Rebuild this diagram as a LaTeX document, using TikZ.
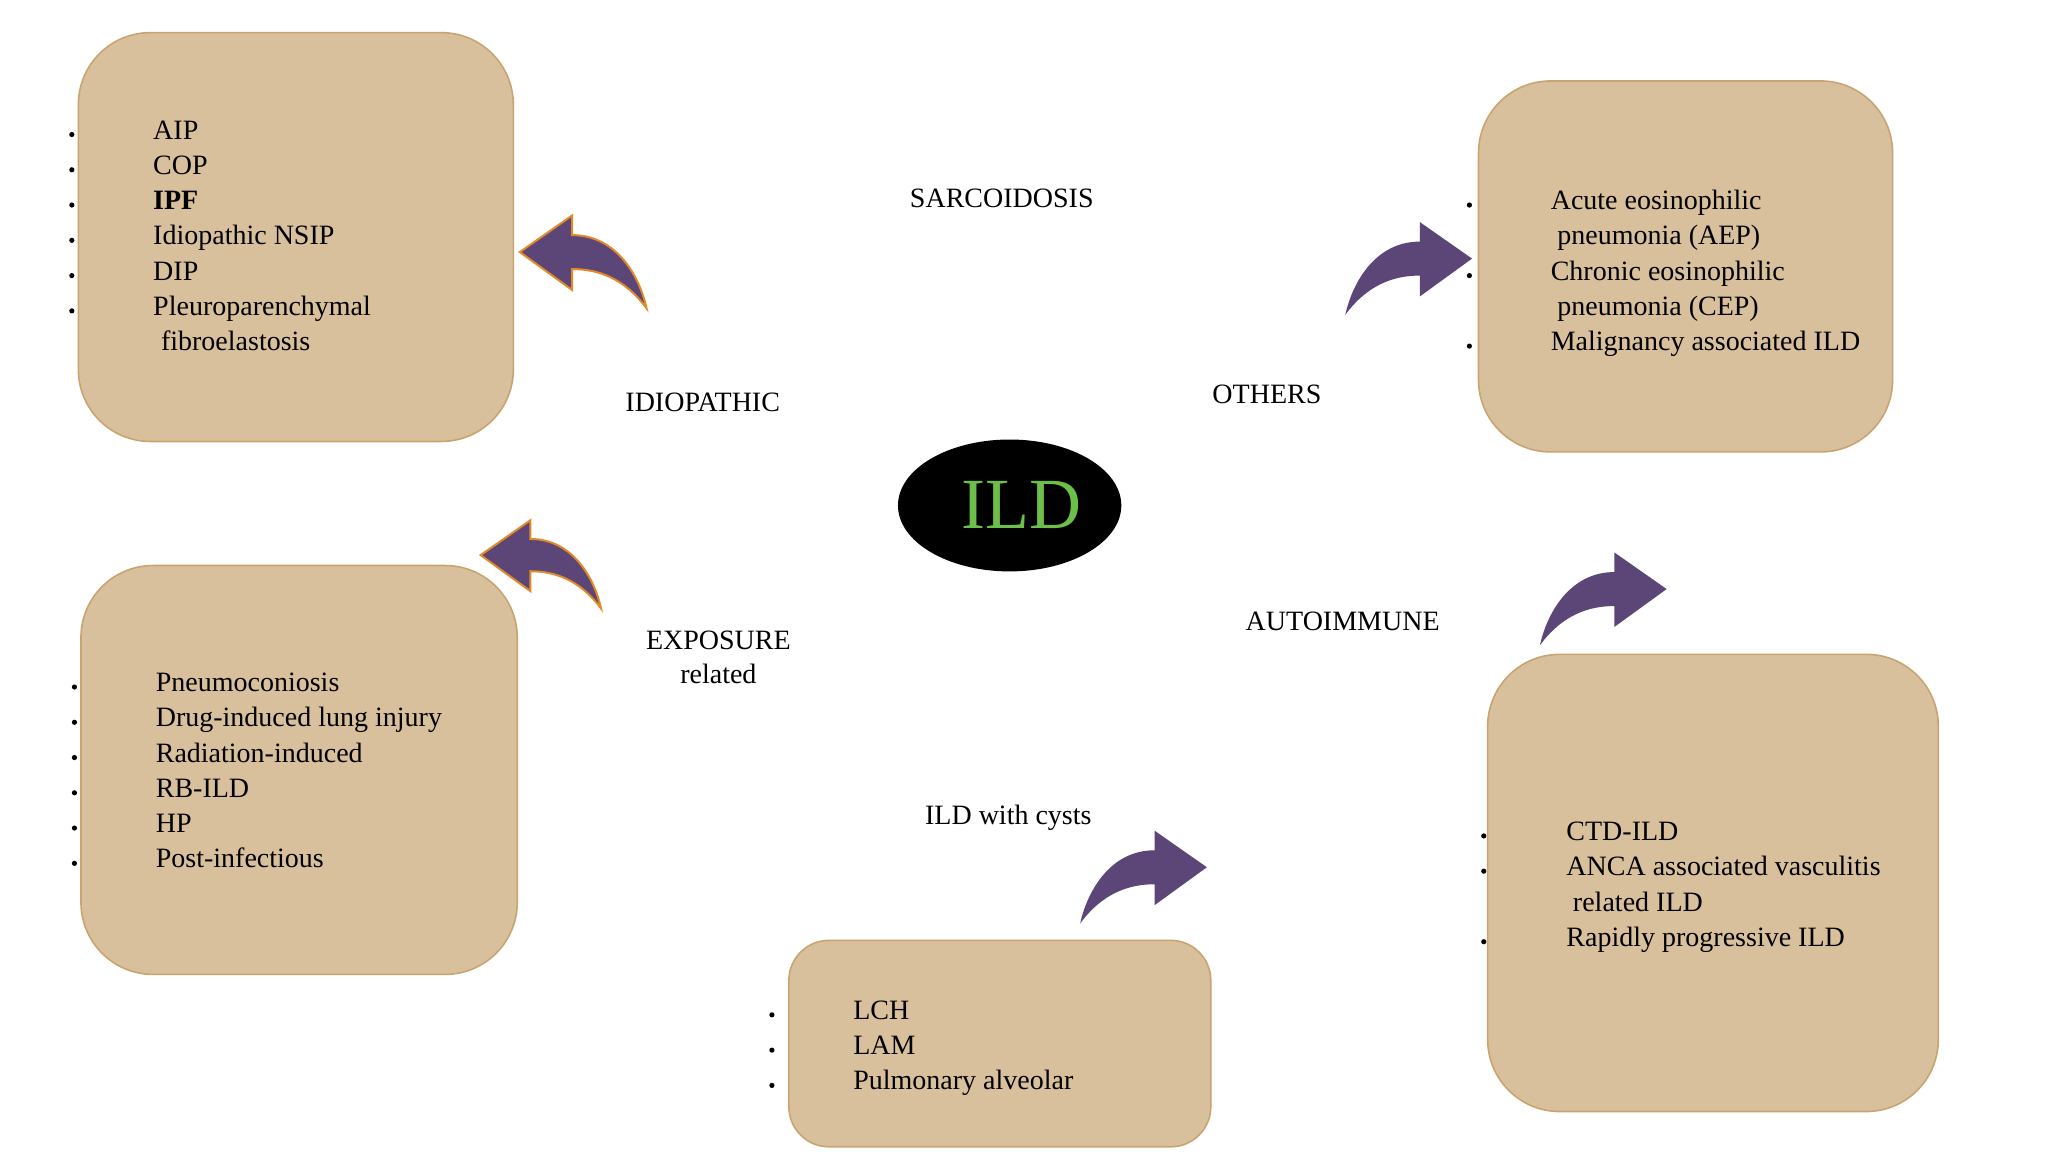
\documentclass[tikz,border=0pt]{standalone}
\usepackage{fontspec}
\setmainfont{Liberation Serif}
\usetikzlibrary{shapes.geometric}
\definecolor{boxfill}{HTML}{D9C09D}
\definecolor{boxline}{HTML}{C9A470}
\definecolor{arrpurple}{HTML}{5C4677}
\definecolor{arrorange}{HTML}{E08A2A}
\definecolor{ildgreen}{HTML}{6CC04A}
\begin{document}
\begin{tikzpicture}[x=0.653pt,y=-0.653pt,
  box/.style={fill=boxfill,draw=boxline,line width=0.8pt,rounded corners=36pt},
  txt/.style={anchor=mid west,inner sep=0pt,font=\fontsize{14}{17}\selectfont},
  lab/.style={inner sep=0pt,font=\fontsize{14}{17}\selectfont,align=center},
  bul/.style={circle,fill=black,inner sep=0pt,minimum size=2.6pt}]
\useasboundingbox (0,0) rectangle (1568,882);
\fill[white] (0,0) rectangle (1568,882);
\def\arrowshape{(0,0) -- (40,-28) -- (40,-13) .. controls (75,-13) and (92,20) .. (97,43) .. controls (80,20) and (60,13) .. (40,13) -- (40,29) -- cycle}
% boxes
\draw[box] (60,25) rectangle (393,338);
\draw[box] (62,433) rectangle (396,746);
\draw[box] (1132,62) rectangle (1449,346);
\draw[box] (1139,501) rectangle (1484,851);
\draw[box,rounded corners=20pt] (604,720) rectangle (927,878);
% arrows
\begin{scope}[shift={(398,193)}]
\draw[fill=arrpurple,draw=arrorange,line width=1pt] \arrowshape;
\end{scope}
\begin{scope}[shift={(368,425)},scale=0.95]
\draw[fill=arrpurple,draw=arrorange,line width=1pt] \arrowshape;
\end{scope}
\begin{scope}[shift={(1127,198)},xscale=-1]
\fill[arrpurple] \arrowshape;
\end{scope}
\begin{scope}[shift={(1276,451)},xscale=-1]
\fill[arrpurple] \arrowshape;
\end{scope}
\begin{scope}[shift={(924,664)},xscale=-1]
\fill[arrpurple] \arrowshape;
\end{scope}
% ILD
\node[ellipse,fill=black,minimum width=171*0.653pt,minimum height=101*0.653pt,inner sep=0pt,text=ildgreen,font=\fontsize{36}{36}\selectfont] (ild) at (773,387) {\hspace{12pt}ILD};
% labels
\node[lab] (sarc) at (767,152) {SARCOIDOSIS};
\node[lab] (idio) at (538,308) {IDIOPATHIC};
\node[lab] (oth) at (970,302) {OTHERS};
\node[lab] (exp) at (550,503) {EXPOSURE\\related};
\node[lab] (auto) at (1028,476) {AUTOIMMUNE};
\node[lab] (cyst) at (772,626) {ILD with cysts};
% box 1
\foreach \y [count=\i] in {103,130,157,184,211,238} \node[bul] (b1\i) at (55,\y) {};
\node[txt] (t11) at (117,103) {AIP};
\node[txt] (t12) at (117,130) {COP};
\node[txt] (t13) at (117,157) {\textbf{IPF}};
\node[txt] (t14) at (117,184) {Idiopathic NSIP};
\node[txt] (t15) at (117,211) {DIP};
\node[txt] (t16) at (117,238) {Pleuroparenchymal};
\node[txt] (t17) at (123,265) {fibroelastosis};
% box 2
\foreach \y [count=\i] in {526,553,580,607,634,661} \node[bul] (b2\i) at (57,\y) {};
\node[txt] (t21) at (119,526) {Pneumoconiosis};
\node[txt] (t22) at (119,553) {Drug-induced lung injury};
\node[txt] (t23) at (119,580) {Radiation-induced};
\node[txt] (t24) at (119,607) {RB-ILD};
\node[txt] (t25) at (119,634) {HP};
\node[txt] (t26) at (119,661) {Post-infectious};
% box 3
\foreach \y [count=\i] in {157,211,265} \node[bul] (b3\i) at (1125,\y) {};
\node[txt] (t31) at (1187,157) {Acute eosinophilic};
\node[txt] (t32) at (1192,184) {pneumonia (AEP)};
\node[txt] (t33) at (1187,211) {Chronic eosinophilic};
\node[txt] (t34) at (1192,238) {pneumonia (CEP)};
\node[txt] (t35) at (1187,265) {Malignancy associated ILD};
% box 4
\foreach \y [count=\i] in {640,667,721} \node[bul] (b4\i) at (1136,\y) {};
\node[txt] (t41) at (1199,640) {CTD-ILD};
\node[txt] (t42) at (1199,667) {ANCA associated vasculitis};
\node[txt] (t43) at (1204,694) {related ILD};
\node[txt] (t44) at (1199,721) {Rapidly progressive ILD};
% box 5
\foreach \y [count=\i] in {777,804,831} \node[bul] (b5\i) at (591,\y) {};
\node[txt] (t51) at (653,777) {LCH};
\node[txt] (t52) at (653,804) {LAM};
\node[txt] (t53) at (653,831) {Pulmonary alveolar};
\end{tikzpicture}
\end{document}
